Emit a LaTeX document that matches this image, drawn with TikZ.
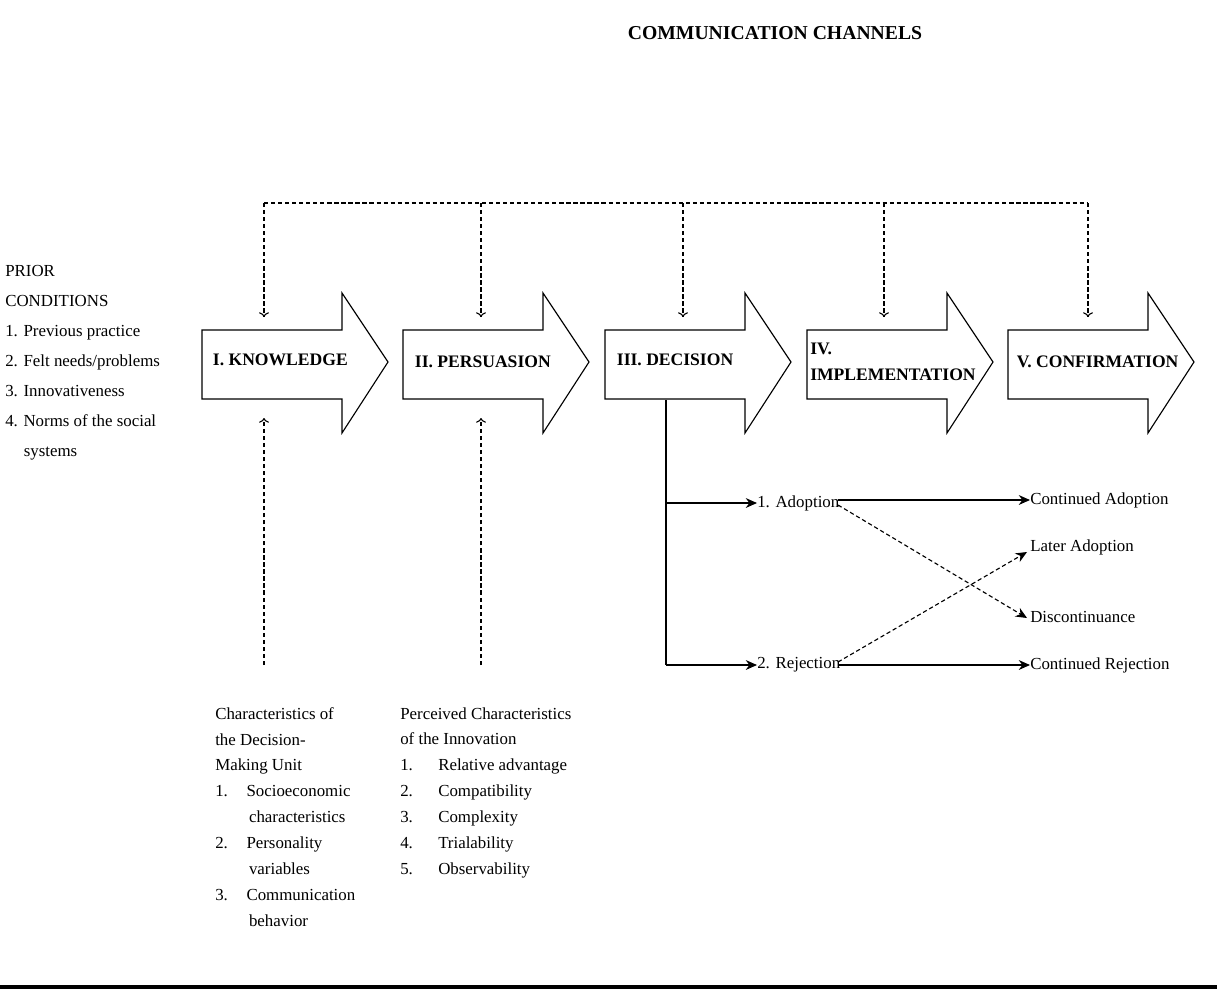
\documentclass[tikz,border=0pt]{standalone}
\usepackage{fontspec}
\setmainfont{Liberation Serif}
\usetikzlibrary{positioning,arrows.meta}

\tikzset{
  stage/.style={draw,thick,fill=white,line join=miter},
  stagelabel/.style={font=\fontsize{12.5}{14}\selectfont\bfseries,align=left,anchor=west},
  txt/.style={font=\fontsize{12}{18.4}\selectfont,anchor=west,inner sep=0pt},
  dashline/.style={densely dashed,thick},
  tip/.style={-{Stealth[length=8pt,width=7pt]}}
}

\begin{document}
\begin{tikzpicture}[x=0.025cm,y=-0.025cm]
    \useasboundingbox (0,0) rectangle (1217,996);

    % Title
    \node[font=\fontsize{14}{16}\selectfont\bfseries] (title) at (775,33) {COMMUNICATION CHANNELS};

    % Stage arrows
    \foreach \i/\x in {1/202, 2/403, 3/605, 4/807, 5/1008} {
        \draw[stage] (\x,330) -- (\x+140,330) -- (\x+140,293) -- (\x+186,362)
            -- (\x+140,433) -- (\x+140,399) -- (\x,399) -- cycle;
        \coordinate (top\i) at (\x+62,329);
        \coordinate (bot\i) at (\x+62,400);
    }
    \node[stagelabel] (s1) at (208,360) {I. KNOWLEDGE};
    \node[stagelabel] (s2) at (410,362) {II. PERSUASION};
    \node[stagelabel] (s3) at (612,360) {III. DECISION};
    \node[stagelabel,inner sep=0pt,font=\fontsize{12.5}{18.4}\selectfont\bfseries] (s4) at (810,362) {IV.\\IMPLEMENTATION};
    \node[stagelabel] (s5) at (1012,362) {V. CONFIRMATION};

    % Communication channels
    \coordinate (c1) at (264,203);
    \coordinate (c2) at (481,203);
    \coordinate (c3) at (683,203);
    \coordinate (c4) at (884,203);
    \coordinate (c5) at (1088,203);
    \draw[dashline] (c1) -- (c5);
    \foreach \i in {1,...,5}
        \draw[dashline,->] (c\i) -- (c\i |- 0,317);

    % Prior conditions
    \node[txt,align=left,anchor=north west,font=\fontsize{12}{21.3}\selectfont] (prior) at (5,265) {PRIOR\\CONDITIONS\\1. Previous practice\\2. Felt needs/problems\\3. Innovativeness\\4. Norms of the social\\\hspace{1.1em}systems};

    % Characteristics below
    \coordinate (u1) at (264,665);
    \coordinate (u2) at (481,665);
    \draw[dashline,->] (u1) -- (264,418);
    \draw[dashline,->] (u2) -- (481,418);
    \node[txt,align=left,anchor=north west] (unit) at (215,707)
        {Characteristics of\\the Decision-\\Making Unit\\
         1.\hspace{1.1em}Socioeconomic\\\hspace{2em}characteristics\\
         2.\hspace{1.1em}Personality\\\hspace{2em}variables\\
         3.\hspace{1.1em}Communication\\\hspace{2em}behavior};
    \node[txt,align=left,anchor=north west] (innov) at (400,707)
        {Perceived Characteristics\\of the Innovation\\
         1.\hspace{1.5em}Relative advantage\\2.\hspace{1.5em}Compatibility\\
         3.\hspace{1.5em}Complexity\\4.\hspace{1.5em}Trialability\\
         5.\hspace{1.5em}Observability};

    % Decision outcomes
    \node[txt] (adopt) at (757,503) {1. Adoption};
    \node[txt] (reject) at (757,665) {2. Rejection};
    \node[txt] (cadopt) at (1030,500) {Continued Adoption};
    \node[txt] (later) at (1030,547) {Later Adoption};
    \node[txt] (disc) at (1030,617) {Discontinuance};
    \node[txt] (creject) at (1030,665) {Continued Rejection};

    \coordinate (dec) at (666,400);
    \draw[thick] (dec) -- (666,665);
    \draw[thick,tip] (666,503) -- (adopt.west);
    \draw[thick,tip] (666,665) -- (reject.west);
    \draw[thick,tip] (838,500) -- (cadopt.west);
    \draw[thick,tip] (838,665) -- (creject.west);
    \draw[dashline,tip] (838,505) -- (1027,618);
    \draw[dashline,tip] (838,662) -- (1027,552);

    % Bottom rule
    \draw[line width=2.5pt] (0,987) -- (1217,987);
\end{tikzpicture}
\end{document}
